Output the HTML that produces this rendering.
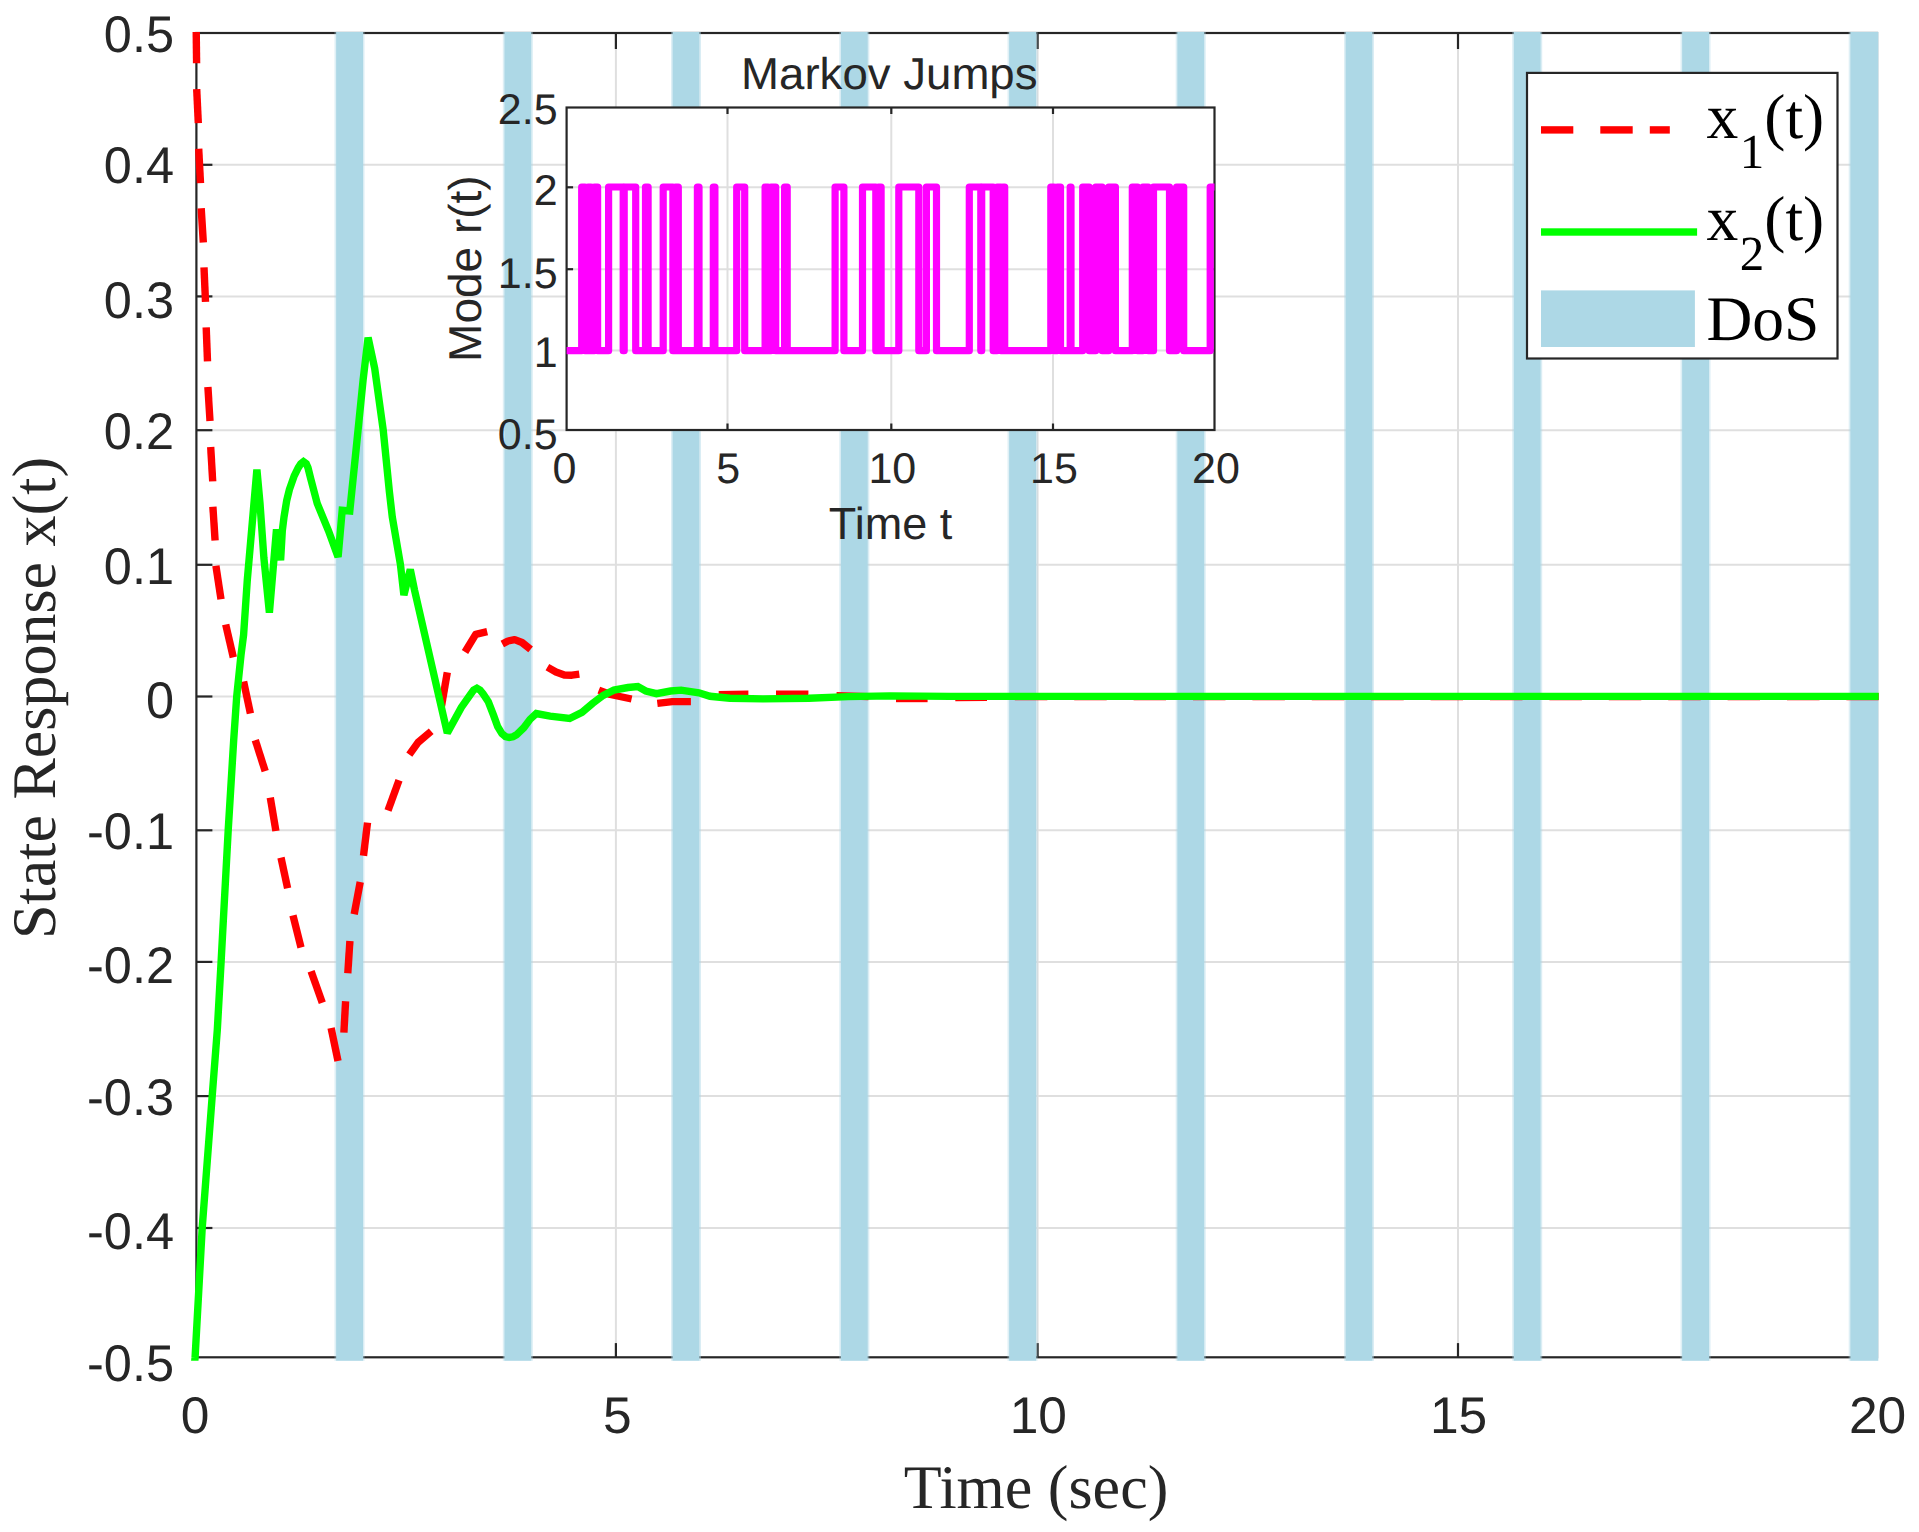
<!DOCTYPE html>
<html lang="en"><head><meta charset="utf-8"><title>State Response with DoS and Markov Jumps</title>
<style>html,body{margin:0;padding:0;background:#fff}svg{display:block;text-rendering:geometricPrecision}.sans{font-family:"Liberation Sans",Arial,Helvetica,sans-serif}.serif{font-family:"Liberation Serif","Times New Roman",Times,serif}</style></head><body>
<svg width="1919" height="1532" viewBox="0 0 1919 1532">
<rect width="1919" height="1532" fill="#fff"/>
<defs>
<clipPath id="cm"><rect x="189.6" y="31.9" width="1689.1" height="1328.8999999999999"/></clipPath>
<clipPath id="ci"><rect x="563" y="104" width="655" height="329"/></clipPath>
</defs>
<g stroke="#dfdfdf" stroke-width="2" fill="none">
<line x1="615.9" y1="33.0" x2="615.9" y2="1357.3"/>
<line x1="1037.6" y1="33.0" x2="1037.6" y2="1357.3"/>
<line x1="1458.0" y1="33.0" x2="1458.0" y2="1357.3"/>
<line x1="196.4" y1="164.8" x2="1877.0" y2="164.8"/>
<line x1="196.4" y1="296.4" x2="1877.0" y2="296.4"/>
<line x1="196.4" y1="430.2" x2="1877.0" y2="430.2"/>
<line x1="196.4" y1="564.8" x2="1877.0" y2="564.8"/>
<line x1="196.4" y1="696.5" x2="1877.0" y2="696.5"/>
<line x1="196.4" y1="830.3" x2="1877.0" y2="830.3"/>
<line x1="196.4" y1="961.9" x2="1877.0" y2="961.9"/>
<line x1="196.4" y1="1096.1" x2="1877.0" y2="1096.1"/>
<line x1="196.4" y1="1228.0" x2="1877.0" y2="1228.0"/>
</g>
<g stroke="#262626" stroke-width="2.2" fill="none">
<rect x="196.4" y="33.0" width="1680.6" height="1324.3"/>
<line x1="615.9" y1="1357.3" x2="615.9" y2="1343.1"/><line x1="615.9" y1="33.0" x2="615.9" y2="49.0"/>
<line x1="1037.6" y1="1357.3" x2="1037.6" y2="1343.1"/><line x1="1037.6" y1="33.0" x2="1037.6" y2="49.0"/>
<line x1="1458.0" y1="1357.3" x2="1458.0" y2="1343.1"/><line x1="1458.0" y1="33.0" x2="1458.0" y2="49.0"/>
<line x1="196.4" y1="164.8" x2="212.4" y2="164.8"/><line x1="1877.0" y1="164.8" x2="1861.0" y2="164.8"/>
<line x1="196.4" y1="296.4" x2="212.4" y2="296.4"/><line x1="1877.0" y1="296.4" x2="1861.0" y2="296.4"/>
<line x1="196.4" y1="430.2" x2="212.4" y2="430.2"/><line x1="1877.0" y1="430.2" x2="1861.0" y2="430.2"/>
<line x1="196.4" y1="564.8" x2="212.4" y2="564.8"/><line x1="1877.0" y1="564.8" x2="1861.0" y2="564.8"/>
<line x1="196.4" y1="696.5" x2="212.4" y2="696.5"/><line x1="1877.0" y1="696.5" x2="1861.0" y2="696.5"/>
<line x1="196.4" y1="830.3" x2="212.4" y2="830.3"/><line x1="1877.0" y1="830.3" x2="1861.0" y2="830.3"/>
<line x1="196.4" y1="961.9" x2="212.4" y2="961.9"/><line x1="1877.0" y1="961.9" x2="1861.0" y2="961.9"/>
<line x1="196.4" y1="1096.1" x2="212.4" y2="1096.1"/><line x1="1877.0" y1="1096.1" x2="1861.0" y2="1096.1"/>
<line x1="196.4" y1="1228.0" x2="212.4" y2="1228.0"/><line x1="1877.0" y1="1228.0" x2="1861.0" y2="1228.0"/>
</g>
<g fill="#add8e6">
<rect x="334.5" y="31.9" width="2" height="1328.9" opacity="0.4"/>
<rect x="336.1" y="31.9" width="26.9" height="1328.9"/>
<rect x="362.9" y="31.9" width="1.6" height="1328.9" opacity="0.45"/>
<rect x="502.8" y="31.9" width="2" height="1328.9" opacity="0.4"/>
<rect x="504.4" y="31.9" width="26.9" height="1328.9"/>
<rect x="531.2" y="31.9" width="1.6" height="1328.9" opacity="0.45"/>
<rect x="671.0" y="31.9" width="2" height="1328.9" opacity="0.4"/>
<rect x="672.6" y="31.9" width="26.9" height="1328.9"/>
<rect x="699.4" y="31.9" width="1.6" height="1328.9" opacity="0.45"/>
<rect x="839.3" y="31.9" width="2" height="1328.9" opacity="0.4"/>
<rect x="840.9" y="31.9" width="26.9" height="1328.9"/>
<rect x="867.7" y="31.9" width="1.6" height="1328.9" opacity="0.45"/>
<rect x="1007.5" y="31.9" width="2" height="1328.9" opacity="0.4"/>
<rect x="1009.1" y="31.9" width="26.9" height="1328.9"/>
<rect x="1035.9" y="31.9" width="1.6" height="1328.9" opacity="0.45"/>
<rect x="1175.7" y="31.9" width="2" height="1328.9" opacity="0.4"/>
<rect x="1177.3" y="31.9" width="26.9" height="1328.9"/>
<rect x="1204.1" y="31.9" width="1.6" height="1328.9" opacity="0.45"/>
<rect x="1344.0" y="31.9" width="2" height="1328.9" opacity="0.4"/>
<rect x="1345.6" y="31.9" width="26.9" height="1328.9"/>
<rect x="1372.4" y="31.9" width="1.6" height="1328.9" opacity="0.45"/>
<rect x="1512.2" y="31.9" width="2" height="1328.9" opacity="0.4"/>
<rect x="1513.8" y="31.9" width="26.9" height="1328.9"/>
<rect x="1540.6" y="31.9" width="1.6" height="1328.9" opacity="0.45"/>
<rect x="1680.5" y="31.9" width="2" height="1328.9" opacity="0.4"/>
<rect x="1682.1" y="31.9" width="26.9" height="1328.9"/>
<rect x="1708.9" y="31.9" width="1.6" height="1328.9" opacity="0.45"/>
<rect x="1848.7" y="31.9" width="2" height="1328.9" opacity="0.4"/>
<rect x="1850.3" y="31.9" width="28.0" height="1328.9"/>
</g>
<g clip-path="url(#cm)"><g stroke="#ff0000" stroke-width="7.4" fill="none" stroke-linejoin="round">
<polyline points="196.2,29.7 196.6,63.3"/>
<polyline points="196.7,89.2 198.3,123.2"/>
<polyline points="198.7,148.7 200.5,183.1"/>
<polyline points="201.2,208.2 203.3,242.6"/>
<polyline points="204.0,267.4 205.5,301.8"/>
<polyline points="206.2,327.4 207.5,361.4"/>
<polyline points="207.9,386.9 210.0,421.1"/>
<polyline points="210.7,447.0 212.7,481.4"/>
<polyline points="212.9,506.8 215.1,540.4"/>
<polyline points="215.9,565.7 221.0,599.2"/>
<polyline points="225.7,624.5 233.3,657.4"/>
<polyline points="243.6,681.4 250.4,713.6"/>
<polyline points="255.3,740.2 265.2,771.2"/>
<polyline points="270.3,797.7 275.9,831.0"/>
<polyline points="281.0,857.6 287.6,888.2"/>
<polyline points="293.0,915.3 301.0,947.5"/>
<polyline points="311.1,971.3 322.3,1002.7"/>
<polyline points="331.1,1028.1 338.0,1061.0"/>
<polyline points="343.9,1032.6 345.6,1001.2"/>
<polyline points="347.8,973.3 349.9,941.0"/>
<polyline points="354.2,914.2 360.2,882.0"/>
<polyline points="363.5,855.8 367.5,822.6"/>
<polyline points="388.0,810.6 399.0,780.2"/>
<polyline points="409.3,754.6 418.1,742.4 431.2,731.2"/>
<polyline points="441.5,706.0 447.3,672.4"/>
<polyline points="465.0,652.0 475.7,634.3 487.2,631.6"/>
<polyline points="502.3,644.0 508.0,641.0 514.7,639.6 522.0,642.5 530.6,649.4"/>
<polyline points="547.4,667.1 556.0,672.0 564.3,675.0 572.0,675.2 579.3,674.2"/>
<polyline points="598.8,690.1 610.3,694.5 631.6,699.0"/>
<polyline points="657.3,703.4 672.3,701.6 690.9,701.6"/>
<polyline points="718.7,694.6 748.4,694.3"/>
<polyline points="776.0,694.2 808.4,694.2"/>
<polyline points="836.5,695.6 868.5,696.6"/>
<polyline points="896.0,698.5 927.6,698.5"/>
<polyline points="955.3,697.6 987.0,697.4"/>
<polyline points="1014.8,696.6 1047.3,696.6"/>
<polyline points="1074.2,696.6 1106.7,696.6"/>
<polyline points="1133.6,696.6 1166.1,696.6"/>
<polyline points="1193.0,696.6 1225.5,696.6"/>
<polyline points="1252.4,696.6 1284.9,696.6"/>
<polyline points="1311.8,696.6 1344.3,696.6"/>
<polyline points="1371.2,696.6 1403.7,696.6"/>
<polyline points="1430.6,696.6 1463.1,696.6"/>
<polyline points="1490.0,696.6 1522.5,696.6"/>
<polyline points="1549.4,696.6 1581.9,696.6"/>
<polyline points="1608.8,696.6 1641.3,696.6"/>
<polyline points="1668.2,696.6 1700.7,696.6"/>
<polyline points="1727.6,696.6 1760.1,696.6"/>
<polyline points="1787.0,696.6 1819.5,696.6"/>
<polyline points="1846.4,696.6 1878.9,696.6"/>
</g>
<polyline fill="none" stroke="#00ff00" stroke-width="7.4" stroke-linejoin="miter" stroke-miterlimit="2" points="194.7,1362.0 195.1,1357.3 202.2,1228.0 212.2,1096.0 217.3,1030.0 221.1,961.9 228.2,830.3 233.7,740.0 236.7,696.5 241.0,655.0 243.6,634.8 247.3,580.0 256.9,469.6 260.0,503.4 263.9,558.2 269.4,612.6 276.5,529.3 280.6,560.3 282.3,530.8 284.0,517.1 286.7,500.6 289.4,489.6 294.2,475.9 298.3,467.6 300.8,463.8 303.5,461.6 306.2,463.6 308.0,467.8 310.7,478.7 317.2,503.4 328.5,530.8 338.1,557.0 342.2,510.2 349.8,510.9 356.2,448.5 363.1,380.0 368.1,337.6 374.7,368.5 383.2,430.0 389.4,491.9 392.3,517.1 400.5,565.0 403.9,595.0 410.3,569.5 414.5,590.0 438.9,696.5 447.3,733.0 461.3,707.5 470.5,694.3 473.6,690.0 476.9,688.2 480.0,690.0 483.0,693.8 488.3,701.7 493.5,715.2 497.7,726.7 501.9,733.6 505.5,736.6 509.2,737.5 513.0,736.8 516.5,734.8 523.8,727.7 530.0,719.4 536.3,713.6 550.1,716.2 569.6,718.5 582.0,712.3 592.6,703.4 603.2,695.4 613.9,690.1 628.0,687.5 637.8,686.6 645.8,691.0 656.4,693.6 670.6,691.0 681.2,690.1 698.9,692.8 710.0,696.3 730.0,698.3 763.0,698.9 809.0,698.3 848.0,696.6 890.0,695.9 950.0,696.4 1881.0,696.4"/>
</g>
<g class="sans" font-size="51.5" fill="#262626">
<g transform="translate(174 0) scale(0.98 1) translate(-174 0)">
<text x="174" y="52.2" text-anchor="end">0.5</text>
<text x="174" y="183.3" text-anchor="end">0.4</text>
<text x="174" y="317.9" text-anchor="end">0.3</text>
<text x="174" y="448.8" text-anchor="end">0.2</text>
<text x="174" y="583.5" text-anchor="end">0.1</text>
<text x="174" y="717.9" text-anchor="end">0</text>
<text x="174" y="849.0" text-anchor="end">-0.1</text>
<text x="174" y="983.4" text-anchor="end">-0.2</text>
<text x="174" y="1115.0" text-anchor="end">-0.3</text>
<text x="174" y="1248.7" text-anchor="end">-0.4</text>
<text x="174" y="1381.4" text-anchor="end">-0.5</text>
</g>
<text x="195.0" y="1433.4" text-anchor="middle">0</text>
<text x="617.3" y="1433.4" text-anchor="middle">5</text>
<text x="1038.3" y="1433.4" text-anchor="middle">10</text>
<text x="1458.6" y="1433.4" text-anchor="middle">15</text>
<text x="1877.6" y="1433.4" text-anchor="middle">20</text>
</g>
<text class="serif" font-size="62" fill="#262626" x="1036" y="1507.6" text-anchor="middle">Time (sec)</text>
<text class="serif" font-size="62" fill="#262626" transform="translate(55.4 698) rotate(-90)" text-anchor="middle">State Response x(t)</text>
<rect x="566.6" y="107.5" width="647.9" height="322.5" fill="#fff"/>
<g stroke="#dfdfdf" stroke-width="2">
<line x1="727.5" y1="107.5" x2="727.5" y2="430.0"/>
<line x1="891.3" y1="107.5" x2="891.3" y2="430.0"/>
<line x1="1053.0" y1="107.5" x2="1053.0" y2="430.0"/>
<line x1="566.6" y1="187.3" x2="1214.5" y2="187.3"/>
<line x1="566.6" y1="269.2" x2="1214.5" y2="269.2"/>
<line x1="566.6" y1="350.4" x2="1214.5" y2="350.4"/>
</g>
<g stroke="#262626" stroke-width="2.2" fill="none">
<rect x="566.6" y="107.5" width="647.9" height="322.5"/>
<line x1="727.5" y1="430.0" x2="727.5" y2="423.5"/><line x1="727.5" y1="107.5" x2="727.5" y2="114.0"/>
<line x1="891.3" y1="430.0" x2="891.3" y2="423.5"/><line x1="891.3" y1="107.5" x2="891.3" y2="114.0"/>
<line x1="1053.0" y1="430.0" x2="1053.0" y2="423.5"/><line x1="1053.0" y1="107.5" x2="1053.0" y2="114.0"/>
<line x1="566.6" y1="187.3" x2="573.1" y2="187.3"/><line x1="1214.5" y1="187.3" x2="1208.0" y2="187.3"/>
<line x1="566.6" y1="269.2" x2="573.1" y2="269.2"/><line x1="1214.5" y1="269.2" x2="1208.0" y2="269.2"/>
<line x1="566.6" y1="350.4" x2="573.1" y2="350.4"/><line x1="1214.5" y1="350.4" x2="1208.0" y2="350.4"/>
</g>
<polyline clip-path="url(#ci)" fill="none" stroke="#ff00ff" stroke-width="7.2" stroke-linejoin="round" points="566.6,350.7 581.7,350.7 581.7,187.0 585.0,187.0 585.0,350.7 588.0,350.7 588.0,187.0 591.0,187.0 591.0,350.7 594.4,350.7 594.4,187.0 597.6,187.0 597.6,350.7 608.6,350.7 608.6,187.0 623.2,187.0 623.2,350.7 624.2,350.7 624.2,187.0 635.7,187.0 635.7,350.7 645.5,350.7 645.5,187.0 648.1,187.0 648.1,350.7 663.2,350.7 663.2,187.0 672.9,187.0 672.9,350.7 675.5,350.7 675.5,187.0 678.3,187.0 678.3,350.7 697.4,350.7 697.4,187.0 699.0,187.0 699.0,350.7 713.3,350.7 713.3,187.0 714.9,187.0 714.9,350.7 736.7,350.7 736.7,187.0 744.7,187.0 744.7,350.7 765.1,350.7 765.1,187.0 768.0,187.0 768.0,350.7 771.0,350.7 771.0,187.0 775.7,187.0 775.7,350.7 784.6,350.7 784.6,187.0 787.2,187.0 787.2,350.7 835.1,350.7 835.1,187.0 843.9,187.0 843.9,350.7 862.5,350.7 862.5,187.0 875.8,187.0 875.8,350.7 878.5,350.7 878.5,187.0 881.1,187.0 881.1,350.7 898.8,350.7 898.8,187.0 918.8,187.0 918.8,350.7 926.4,350.7 926.4,187.0 936.5,187.0 936.5,350.7 969.3,350.7 969.3,187.0 980.8,187.0 980.8,350.7 981.7,350.7 981.7,187.0 993.2,187.0 993.2,350.7 997.1,350.7 997.1,187.0 1001.0,187.0 1001.0,350.7 1002.9,350.7 1002.9,187.0 1004.7,187.0 1004.7,350.7 1050.8,350.7 1050.8,187.0 1054.0,187.0 1054.0,350.7 1057.3,350.7 1057.3,187.0 1060.5,187.0 1060.5,350.7 1070.2,350.7 1070.2,187.0 1071.0,187.0 1071.0,350.7 1082.7,350.7 1082.7,187.0 1089.2,187.0 1089.2,350.7 1095.7,350.7 1095.7,187.0 1102.2,187.0 1102.2,350.7 1108.7,350.7 1108.7,187.0 1115.4,187.0 1115.4,350.7 1132.3,350.7 1132.3,187.0 1137.6,187.0 1137.6,350.7 1142.9,350.7 1142.9,187.0 1148.2,187.0 1148.2,350.7 1153.5,350.7 1153.5,187.0 1169.5,187.0 1169.5,350.7 1176.6,350.7 1176.6,187.0 1183.7,187.0 1183.7,350.7 1210.2,350.7 1210.2,187.0 1214.5,187.0"/>
<g class="sans" font-size="43" fill="#262626">
<text x="557.6" y="123.5" text-anchor="end">2.5</text>
<text x="557.6" y="205.3" text-anchor="end">2</text>
<text x="557.6" y="287.5" text-anchor="end">1.5</text>
<text x="557.6" y="366.8" text-anchor="end">1</text>
<text x="557.6" y="449.2" text-anchor="end">0.5</text>
<text x="564.4" y="482.6" text-anchor="middle">0</text>
<text x="728.1" y="482.6" text-anchor="middle">5</text>
<text x="892.3" y="482.6" text-anchor="middle">10</text>
<text x="1054.0" y="482.6" text-anchor="middle">15</text>
<text x="1215.9" y="482.6" text-anchor="middle">20</text>
</g>
<g class="sans" font-size="45" fill="#262626">
<text x="889.3" y="89.1" text-anchor="middle" font-size="44.6" textLength="296.5" lengthAdjust="spacingAndGlyphs">Markov Jumps</text>
<text x="890.5" y="538.9" text-anchor="middle">Time t</text>
<text transform="translate(480.9 268.6) rotate(-90)" text-anchor="middle" font-size="46">Mode r(t)</text>
</g>
<rect x="1527.0" y="72.9" width="310.5" height="285.6" fill="#fff" stroke="#262626" stroke-width="2.2"/>
<g fill="#ff0000"><rect x="1541" y="126.2" width="32.3" height="7.4"/><rect x="1600.3" y="126.2" width="32.4" height="7.4"/><rect x="1649.8" y="126.2" width="20" height="7.4"/></g>
<rect x="1541" y="228.3" width="156.1" height="7.4" fill="#00ff00"/>
<rect x="1541" y="290.4" width="153.9" height="56.6" fill="#add8e6"/>
<g class="serif" font-size="63.5" fill="#000">
<text x="1706.5" y="137.7">x<tspan font-size="49" dx="1.5" dy="29.9">1</tspan><tspan dy="-29.9">(t)</tspan></text>
<text x="1706.5" y="239.8">x<tspan font-size="49" dx="1.5" dy="29.9">2</tspan><tspan dy="-29.9">(t)</tspan></text>
<text x="1706.5" y="339.7">DoS</text>
</g>
</svg></body></html>
